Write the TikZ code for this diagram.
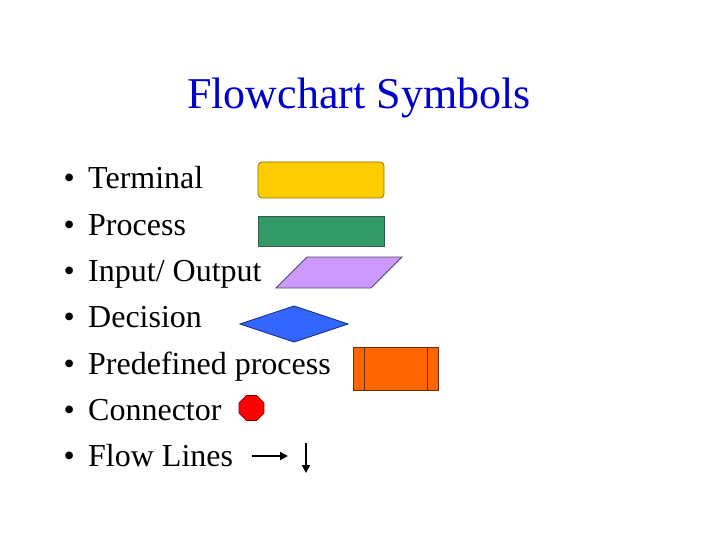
\documentclass[tikz,border=0pt]{standalone}
\usepackage{fontspec}
\setmainfont{Liberation Serif}
\usetikzlibrary{shapes.geometric,arrows.meta}
\definecolor{titleblue}{HTML}{0000CC}
\definecolor{termfill}{HTML}{FFCC00}
\definecolor{termdraw}{HTML}{8C7000}
\definecolor{procfill}{HTML}{339966}
\definecolor{procdraw}{HTML}{2E5E48}
\definecolor{iofill}{HTML}{CC99FF}
\definecolor{iodraw}{HTML}{554466}
\definecolor{decfill}{HTML}{3366FF}
\definecolor{decdraw}{HTML}{1A2E80}
\definecolor{predfill}{HTML}{FF6600}
\definecolor{preddraw}{HTML}{6B2A00}
\definecolor{confill}{HTML}{FF0000}
\definecolor{condraw}{HTML}{800000}
\tikzset{
  bullettext/.style={anchor=base west,inner sep=0pt,font=\fontsize{32}{36}\selectfont},
  shapebox/.style={inner sep=0pt,outer sep=0pt,line width=0.8pt},
  flowline/.style={line width=2pt,-{Triangle[length=8pt,width=8pt]}}
}
\begin{document}
\begin{tikzpicture}[x=1pt,y=-1pt]
\useasboundingbox (0,0) rectangle (720,540);
\node[anchor=base,inner sep=0pt,text=titleblue,font=\fontsize{44}{50}\selectfont] (title) at (359,109) {Flowchart Symbols};
\foreach \t [count=\i] in {Terminal,Process,Input/ Output,Decision,Predefined process,Connector,Flow Lines}{
  \node[bullettext] (b\i) at (88,{189+46.3*(\i-1)}) {\t};
  \node[anchor=base east,inner sep=0pt,font=\fontsize{32}{36}\selectfont] (d\i) at (75,{189+46.3*(\i-1)}) {•};
}
% Terminal
\node[shapebox,draw=termdraw,fill=termfill,rounded corners=4pt,minimum width=126pt,minimum height=36pt] (term) at (321,180) {};
% Process
\node[shapebox,draw=procdraw,fill=procfill,minimum width=126pt,minimum height=30pt] (proc) at (321,231) {};
% Input/Output
\draw[line width=0.8pt,draw=iodraw,fill=iofill] (307,257) -- (402,257) -- (371,288) -- (276,288) -- cycle;
% Decision
\draw[line width=0.8pt,draw=decdraw,fill=decfill] (240,324) -- (294,306) -- (348,324) -- (294,342) -- cycle;
% Predefined process
\node[shapebox,draw=preddraw,fill=predfill,minimum width=85pt,minimum height=43pt] (pred) at (395.5,368.5) {};
\draw[line width=0.8pt,draw=preddraw] (364,347) -- (364,390) (427,347) -- (427,390);
% Connector
\node[shapebox,regular polygon,regular polygon sides=8,draw=condraw,fill=confill,minimum size=27pt] (con) at (251.5,408) {};
% Flow lines
\coordinate (ra) at (252,456);
\coordinate (rb) at (288,456);
\coordinate (da) at (306,443);
\coordinate (db) at (306,473);
\draw[flowline] (ra) -- (rb);
\draw[flowline] (da) -- (db);
\end{tikzpicture}
\end{document}
